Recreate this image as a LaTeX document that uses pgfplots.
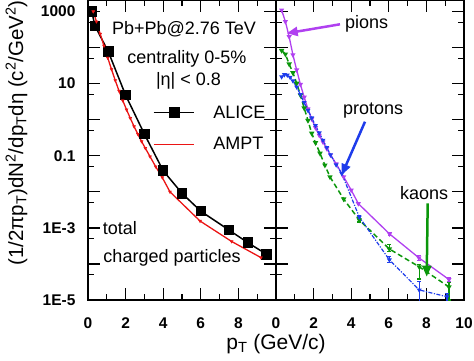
\documentclass[border=0pt]{standalone}
\usepackage{fontspec}
\setmainfont{Liberation Sans}
\usepackage{pgfplots}
\pgfplotsset{compat=1.18}
\usetikzlibrary{arrows.meta}
\definecolor{vio}{RGB}{176,64,240}
\definecolor{grn}{RGB}{10,150,10}
\definecolor{blu}{RGB}{30,60,235}
\definecolor{rd}{RGB}{235,20,20}
\begin{document}
\begin{tikzpicture}
\useasboundingbox (-88pt,-61pt) rectangle (386pt,300pt);
\begin{axis}[
    scale only axis, width=188pt, height=300pt,
    xmin=0, xmax=10, ymode=log, ymin=1e-5, ymax=2090,
    axis line style={line width=1.5pt},
    tick align=inside,
    major tick length=12pt, minor tick length=6pt,
    every tick/.style={black, line width=1.3pt},
    xtick={0,2,4,6,8,10}, minor xtick={1,3,5,7,9},
    ytick={1e-5,1e-4,1e-3,1e-2,0.1,1,10,100,1000},
    minor ytick={5e-5,5e-4,5e-3,0.05,0.5,5,50,500},
    tick label style={font=\fontsize{15.5}{16}\selectfont\bfseries},
    xticklabel style={yshift=-14pt},
    yticklabel style={xshift=-9pt},
    at={(0pt,0pt)}, anchor=south west,
    xticklabels={0,2,4,6,8,},
    yticklabels={1E-5,,1E-3,,0.1,,10,,1000},
    legend image code/.code={\draw[mark repeat=2,mark phase=2] plot coordinates {(0pt,0pt) (21pt,0pt) (40pt,0pt)};},
    legend style={draw=none, fill=none, at={(0.344,0.655)}, anchor=north west,
      inner sep=0pt, font=\fontsize{18}{20}\selectfont, row sep=13.5pt,
      /tikz/every odd column/.append style={column sep=17pt}},
    legend cell align=left]
\addplot[black, line width=1.5pt, mark=square*, mark size=4.5pt] coordinates {
(0.2,1000) (0.37,400) (1.08,77) (2.0,4.8) (3.0,0.40) (4.0,0.0385)
(5.0,0.0091) (6.0,0.0029) (7.5,8.7e-4) (8.5,3.9e-4) (9.5,1.85e-4)};
\addlegendentry{ALICE}
\addplot[rd, line width=1.3pt, mark=none] coordinates {
(0.28,1000) (0.45,525) (0.65,240) (0.85,112) (1.05,52) (1.25,25) (1.45,12.3)
(1.65,6.3) (1.85,3.4) (2.05,1.9) (2.25,1.1) (2.45,0.65) (2.65,0.40) (2.85,0.25)
(3.05,0.162) (3.3,0.095) (3.6,0.050) (3.95,0.025) (4.36,0.010) (5.96,1.55e-3)
(7.64,4.2e-4) (9.2,1.5e-4)};
\addlegendentry{AMPT}
\addplot[forget plot, only marks, rd, mark=triangle*, mark size=1.7pt, mark options={rotate=180}] coordinates {
(0.28,1000) (0.45,525) (0.65,240) (0.85,112) (1.05,52) (1.25,25) (1.45,12.3)
(1.65,6.3) (1.85,3.4) (2.05,1.9) (2.25,1.1) (2.45,0.65) (2.65,0.40) (2.85,0.25)
(3.05,0.162) (3.3,0.095) (3.6,0.050) (3.95,0.025) (4.36,0.010) (5.96,1.55e-3)
(7.64,4.2e-4) (9.2,1.5e-4)};
\end{axis}
\begin{axis}[
    scale only axis, width=188pt, height=300pt,
    xmin=0, xmax=10, ymode=log, ymin=1e-5, ymax=2090,
    axis line style={line width=1.5pt},
    tick align=inside,
    major tick length=12pt, minor tick length=6pt,
    every tick/.style={black, line width=1.3pt},
    xtick={0,2,4,6,8,10}, minor xtick={1,3,5,7,9},
    ytick={1e-5,1e-4,1e-3,1e-2,0.1,1,10,100,1000},
    minor ytick={5e-5,5e-4,5e-3,0.05,0.5,5,50,500},
    tick label style={font=\fontsize{15.5}{16}\selectfont\bfseries},
    xticklabel style={yshift=-14pt},
    at={(188pt,0pt)}, anchor=south west,
    xticklabels={0,2,4,6,8,10},
    yticklabels={}]
% pions
\addplot[vio, line width=1.3pt, mark=triangle*, mark size=1.7pt, mark options={rotate=180},
  error bars/.cd, y dir=both, y explicit, error bar style={line width=1.1pt},
  error mark options={rotate=90, mark size=2pt, line width=1.1pt}] coordinates {
(0.3,1100) (0.5,525) (0.7,200) (0.9,63) (1.1,24) (1.3,9.5) (1.5,4.2) (1.7,2.0)
(1.9,1.05) (2.1,0.60) (2.3,0.37) (2.5,0.24) (2.7,0.158) (2.9,0.105) (3.2,0.060)
(3.6,0.026) (4.0,0.0112) (4.38,0.0047)
(6.04,6.8e-4) +- (0,0.6e-4)
(7.6,1.48e-4) +- (0,0.2e-4)
(9.2,3.7e-5) +- (0,0.5e-5)};
% kaons
\addplot[grn, line width=1.5pt, dash pattern=on 5pt off 3pt, mark=triangle*, mark size=1.7pt, mark options={rotate=180, solid},
  error bars/.cd, y dir=both, y explicit, error bar style={line width=1.2pt, solid},
  error mark options={rotate=90, mark size=2pt, line width=1.2pt}] coordinates {
(0.3,83) (0.5,66) (0.7,35) (0.9,20) (1.1,10.2) (1.3,4.8) (1.5,2.1) (1.7,0.95)
(1.9,0.42) (2.1,0.23) (2.34,0.117) (2.6,0.055) (2.87,0.026) (3.6,6.3e-3)
(4.43,1.66e-3) += (0,0.2e-3) -= (0,0.2e-3)
(6.03,2.6e-4) += (0,0.8e-4) -= (0,0.4e-4)
(7.62,8.3e-5) += (0,1.2e-5) -= (0,4.5e-5)
(9.2,2.3e-5) += (0,0.7e-5) -= (0,1.3e-5)};
% protons
\addplot[blu, line width=1.2pt, dash pattern=on 4pt off 1.5pt on 1.2pt off 1.5pt, mark=triangle*, mark size=1.7pt, mark options={rotate=180, solid},
  error bars/.cd, y dir=both, y explicit, error bar style={line width=1.2pt, solid},
  error mark options={rotate=90, mark size=2pt, line width=1.2pt}] coordinates {
(0.3,15.5) (0.45,17.8) (0.6,17.4) (0.75,15.1) (0.9,12.0) (1.1,8.1) (1.3,5.0)
(1.5,3.0) (1.7,1.82) (1.9,1.12) (2.1,0.69) (2.3,0.43) (2.5,0.27) (2.7,0.17)
(2.9,0.107) (3.2,0.056) (3.5,0.032)
(4.43,2.0e-3) += (0,0.2e-3) -= (0,0.2e-3)
(6.03,1.3e-4) += (0,0.3e-4) -= (0,0.2e-4)
(7.62,1.9e-5) += (0,1.3e-5) -= (0,1.0e-5)
(9.1,1.23e-5) += (0,0.3e-5) -= (0,0.3e-5)};
\end{axis}
% text
\node[anchor=base, font=\fontsize{18}{20}\selectfont] at (96pt,265pt) {Pb+Pb@2.76 TeV};
\node[anchor=base, font=\fontsize{18}{20}\selectfont] at (99pt,236pt) {centrality 0-5\%};
\node[anchor=base, font=\fontsize{18}{20}\selectfont] at (100.5pt,214pt) {|η| < 0.8};
\node[anchor=base west, inner sep=0pt, font=\fontsize{18}{20}\selectfont] at (14.7pt,65pt) {total};
\node[anchor=base west, inner sep=0pt, font=\fontsize{18}{20}\selectfont] at (15.3pt,37pt) {charged particles};
\node[anchor=base west, inner sep=0pt, font=\fontsize{18}{20}\selectfont] at (257pt,271pt) {pions};
\node[anchor=base west, inner sep=0pt, font=\fontsize{18}{20}\selectfont] at (255pt,185pt) {protons};
\node[anchor=base west, inner sep=0pt, font=\fontsize{18}{20}\selectfont] at (312pt,100pt) {kaons};
\draw[vio, line width=2.5pt, -{Triangle[length=11pt,width=9pt]}] (252pt,275.7pt) -- (198.7pt,266.7pt);
\draw[blu, line width=2.5pt, -{Triangle[length=11pt,width=9pt]}] (277pt,178.3pt) -- (253.7pt,125pt);
\draw[grn, line width=2.5pt, -{Triangle[length=11pt,width=9pt]}] (339.7pt,96.7pt) -- (338.7pt,23.3pt);
% axis labels
\node[rotate=90, font=\fontsize{20.5}{23}\selectfont] at (-71.5pt,167pt) {(1/2πp\textsubscript{T})dN\textsuperscript{2}/dp\textsubscript{T}dη (c\textsuperscript{2}/GeV\textsuperscript{2})};
\node[font=\fontsize{21}{23}\selectfont] at (188pt,-44pt) {p\textsubscript{T} (GeV/c)};
\end{tikzpicture}
\end{document}
